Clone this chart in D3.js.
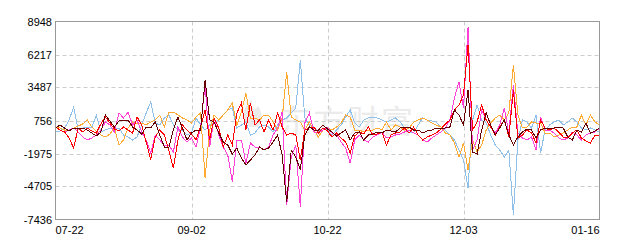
<!DOCTYPE html>
<html>
<head>
<meta charset="utf-8">
<script src="https://cdn.jsdelivr.net/npm/d3@7"></script>
<style>
html,body{margin:0;padding:0;background:#fff;}
svg{display:block;}
</style>
</head>
<body>
<svg id="chart" width="620" height="240"></svg>
<script>
const tickLabels = ["07-22","09-02","10-22","12-03","01-16"];
const tickIndex = [0,30,60,90,120];
const yTicks = [8948,6217,3487,756,-1975,-4705,-7436];
const yTickLabels = ["8948","6217","3487","756","-1975","-4705","-7436"];

const seriesBlack = [135,383,135,-113,135,135,135,-31,-279,-527,
-196,1211,714,218,714,797,797,218,-31,-362,
218,135,632,-444,-1437,-1520,-31,1045,135,-858,
-279,-31,-31,4107,797,632,-279,-1024,-1272,-2017,
-1520,-2348,-2927,-2513,-2099,-1437,-1686,-1520,-1024,-444,
-2099,-6000,-1686,-2265,-3341,-444,218,-31,-31,383,
52,-196,-527,-279,-31,-858,-279,-196,-858,-444,
-362,-196,-279,-31,-113,-196,135,218,218,-31,
-31,-279,-113,-31,135,135,135,218,1624,1211,
383,3279,-1851,-2017,-31,1376,383,-444,135,797,
-444,-1272,-610,-196,52,-31,-693,-31,135,135,
135,218,135,-610,-858,-31,-196,549,-279,-113,
135];

const seriesRed = [218,-31,-196,-693,-1520,135,-196,135,-113,-279,
466,1045,549,52,-113,218,-31,-279,1045,383,
-1024,-2513,-610,-31,-444,-1686,-3175,-858,383,-31,
-362,-858,218,1624,-858,962,135,-1437,-444,-1272,
1376,2204,-31,2204,383,797,-196,797,-31,1376,
218,-444,-279,-444,-2513,-31,135,218,-279,135,
-113,-610,-279,-693,-1024,-1934,-527,-196,-362,218,
-444,-362,-196,-1272,-444,-279,-196,135,-279,218,
-444,-858,-610,-444,-279,52,466,797,1624,2038,
2866,7003,-31,632,2038,797,218,-444,218,797,
-610,3279,-693,-444,-31,-279,-1106,797,135,-31,
135,-196,-610,-693,-279,-31,-693,-941,-1106,-444,
-444];

const seriesMagenta = [218,-31,-196,-31,135,-196,-610,-858,-693,-444,
-31,632,383,-196,1376,962,1459,383,797,-196,
-858,-1934,-444,-858,-1272,-1272,-1851,218,-610,-1024,
-693,-1437,218,3693,-1437,962,-444,-1437,-2099,-4334,
-858,-858,-2761,-1106,-1437,-1437,-1686,-1437,-444,135,
1459,-6237,-2265,-1272,-6402,549,1376,-196,-279,-31,
135,-279,-444,-1024,-1520,-2761,-858,-444,-858,-1024,
-610,-444,-196,-693,-610,-444,-362,-196,-31,-279,
-444,-858,-1024,-693,-444,-196,135,797,2617,3941,
1790,8493,-1686,-858,1624,797,218,-279,383,1790,
-279,3693,-279,-693,-858,-610,-1686,1045,-31,-31,
-279,-693,-858,-693,-196,-444,-858,-444,-279,-196,
135];

const seriesOrange = [218,135,-31,-31,135,301,466,797,218,-113,
-444,-610,-362,135,-1272,-858,135,632,466,549,
383,632,797,1211,218,1459,1459,1211,962,797,
549,1045,1376,-4003,-31,1211,797,1211,1624,2204,
383,1459,3031,962,962,797,1211,1211,632,-31,
962,4769,1045,797,632,-31,632,-31,-610,-31,
135,-31,218,549,1211,1045,-31,-31,-196,-31,
-31,135,-31,632,-31,383,218,-31,135,632,
797,962,797,549,383,218,-279,-444,-1106,-2265,
-1106,-3341,-858,-1851,-1272,-31,549,962,1211,797,
1376,5348,1211,135,218,632,549,549,-279,-279,
-610,-444,-279,-31,218,218,1211,383,1211,632,
383];

const seriesBlue = [-196,-113,135,797,1873,-31,135,218,135,1211,
-196,-31,135,135,135,-444,-610,-858,-610,383,
1376,2286,549,383,962,1211,383,-31,-31,-444,
-279,962,383,-31,383,549,797,1211,1624,1790,
135,383,632,-444,-279,218,383,218,-196,383,
797,962,1376,1790,5762,962,383,218,-196,135,
-31,-444,-31,383,1045,1624,549,218,797,962,
1045,962,797,632,797,962,632,135,-196,-279,
383,962,797,714,632,218,-31,-444,-858,-1686,
-2513,-4830,797,2038,797,549,-444,-1272,-1686,-2265,
-1686,-7064,-858,797,632,135,1211,-1934,-31,383,
632,797,383,632,962,632,135,-31,135,-31,
-196];

const series = [
  {values: seriesBlue, color: "#8ec0ea"},
  {values: seriesOrange, color: "#ffaa33"},
  {values: seriesMagenta, color: "#ff3fd6"},
  {values: seriesRed, color: "#ff0000"},
  {values: seriesBlack, color: "#660000"}
];

const svg = d3.select("#chart");
const plotL = 55.5, plotR = 599.5, plotT = 21.5, plotB = 219.5;
const n = seriesBlack.length;
const x = d3.scaleLinear().domain([0, n - 1]).range([plotL, plotR]);
const y = d3.scaleLinear().domain([yTicks[yTicks.length-1], yTicks[0]]).range([plotB, plotT]);

// watermark
const wm = svg.append("g").attr("fill", "#ebebeb");
wm.append("path")
  .attr("d", "M250,127 C240,118 242,108 252,100 C250,108 254,112 258,106 C262,112 264,120 258,127 Z");
wm.append("text")
  .attr("x", 279).attr("y", 119)
  .attr("dominant-baseline", "central")
  .attr("font-family", "Noto Sans CJK SC")
  .attr("font-size", 32)
  .attr("letter-spacing", 2)
  .text("东方财富");

// horizontal grid
svg.append("g").selectAll("line")
  .data(yTicks.slice(1, -1))
  .join("line")
  .attr("x1", plotL).attr("x2", plotR)
  .attr("y1", d => Math.round(y(d)) + 0.5).attr("y2", d => Math.round(y(d)) + 0.5)
  .attr("stroke", "#cccccc").attr("stroke-dasharray", "4,3");

// vertical grid
svg.append("g").selectAll("line")
  .data(tickIndex.slice(1, -1))
  .join("line")
  .attr("y1", plotT).attr("y2", plotB)
  .attr("x1", d => Math.round(x(d)) + 0.5).attr("x2", d => Math.round(x(d)) + 0.5)
  .attr("stroke", "#cccccc").attr("stroke-dasharray", "4,3");

// lines
const line = d3.line().x((d, i) => x(i)).y(d => y(d));
svg.append("g").selectAll("path")
  .data(series)
  .join("path")
  .attr("d", d => line(d.values))
  .attr("fill", "none")
  .attr("stroke", d => d.color)
  .attr("stroke-width", 1)
  .attr("shape-rendering", "crispEdges");

// frame
svg.append("rect")
  .attr("x", plotL).attr("y", plotT)
  .attr("width", plotR - plotL).attr("height", plotB - plotT)
  .attr("fill", "none").attr("stroke", "#999999");

// y labels
svg.append("g").selectAll("text")
  .data(yTicks)
  .join("text")
  .attr("x", 52).attr("y", d => y(d) + 4)
  .attr("text-anchor", "end")
  .attr("font-family", "Liberation Sans, Arial, sans-serif")
  .attr("font-size", 11)
  .attr("fill", "#000")
  .text((d, i) => yTickLabels[i]);

// x labels
svg.append("g").selectAll("text")
  .data(tickIndex)
  .join("text")
  .attr("x", d => x(d))
  .attr("y", 233.5)
  .attr("text-anchor", (d, i) => i === 0 ? "start" : (i === tickIndex.length - 1 ? "end" : "middle"))
  .attr("font-family", "Liberation Sans, Arial, sans-serif")
  .attr("font-size", 11)
  .attr("fill", "#000")
  .text((d, i) => tickLabels[i]);
</script>
</body>
</html>
